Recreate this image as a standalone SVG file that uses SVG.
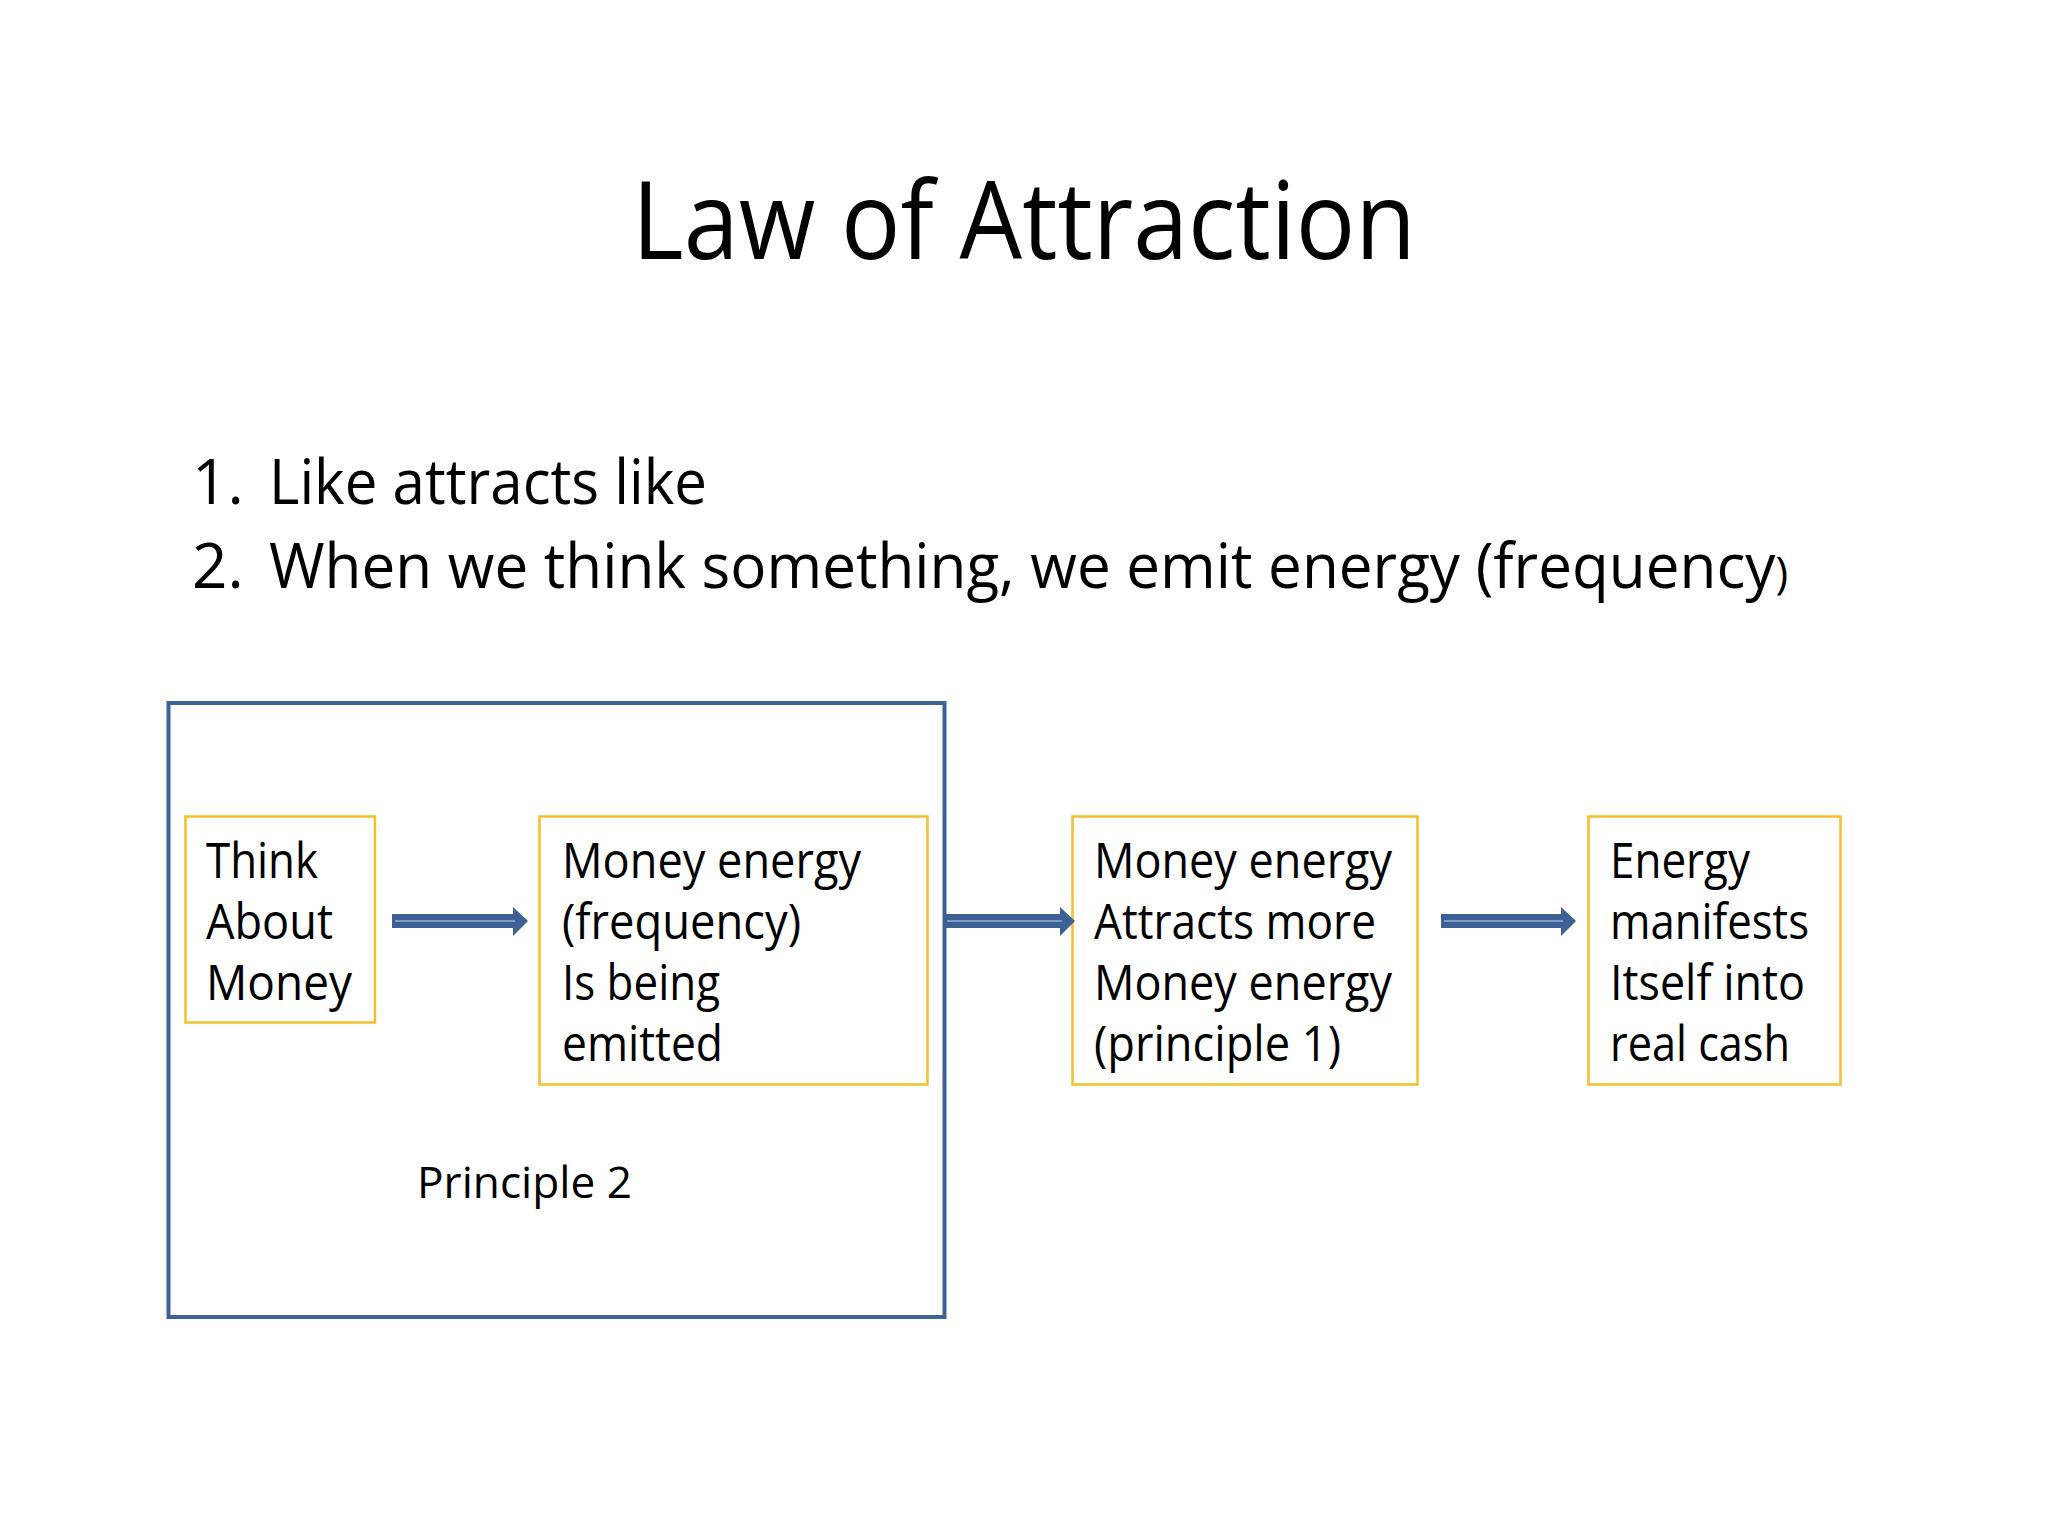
<svg xmlns="http://www.w3.org/2000/svg" width="2048" height="1536" viewBox="0 0 2048 1536">
<style>
text{font-family:"Open Sans","Noto Sans","Liberation Sans",sans-serif;fill:#000}
.t{font-size:108px}
.l{font-size:62px}
.b{font-size:50px}
.p{font-size:44px}
.box{fill:none;stroke:#F4BF2A;stroke-width:2.5}
.frame{fill:none;stroke:#3F6295;stroke-width:4}
.ar{fill:#3D6095}
.arl{stroke:#7C9BC9;stroke-width:2;fill:none}
</style>
<rect width="2048" height="1536" fill="#fff"/>
<text class="t" x="632" y="259" textLength="784" lengthAdjust="spacingAndGlyphs">Law of Attraction</text>
<text class="l" x="192" y="504">1.</text>
<text class="l" x="269" y="504" textLength="438" lengthAdjust="spacingAndGlyphs">Like attracts like</text>
<text class="l" x="192" y="588">2.</text>
<text class="l" x="269" y="588" textLength="1519" lengthAdjust="spacingAndGlyphs">When we think something, we emit energy (frequency<tspan style="font-size:44px">)</tspan></text>
<g id="principle2">
<rect class="frame" x="168.5" y="703" width="776" height="614"/>
<text class="p" x="417" y="1198" textLength="215" lengthAdjust="spacingAndGlyphs">Principle 2</text>
</g>
<g id="think">
<rect class="box" x="185.5" y="816.5" width="189.5" height="206"/>
<text class="b"><tspan x="206" y="878" textLength="112" lengthAdjust="spacingAndGlyphs">Think</tspan><tspan x="206" y="939" textLength="127" lengthAdjust="spacingAndGlyphs">About</tspan><tspan x="206" y="1000" textLength="146" lengthAdjust="spacingAndGlyphs">Money</tspan></text>
</g>
<g id="emitted">
<rect class="box" x="539.5" y="816.5" width="388" height="268"/>
<text class="b"><tspan x="562" y="878" textLength="299" lengthAdjust="spacingAndGlyphs">Money energy</tspan><tspan x="562" y="939" textLength="239" lengthAdjust="spacingAndGlyphs">(frequency)</tspan><tspan x="562" y="1000" textLength="158" lengthAdjust="spacingAndGlyphs">Is being</tspan><tspan x="562" y="1061" textLength="161" lengthAdjust="spacingAndGlyphs">emitted</tspan></text>
</g>
<g id="attracts">
<rect class="box" x="1072.5" y="816.5" width="345" height="268"/>
<text class="b"><tspan x="1094" y="878" textLength="298" lengthAdjust="spacingAndGlyphs">Money energy</tspan><tspan x="1094" y="939" textLength="282" lengthAdjust="spacingAndGlyphs">Attracts more</tspan><tspan x="1094" y="1000" textLength="298" lengthAdjust="spacingAndGlyphs">Money energy</tspan><tspan x="1094" y="1061" textLength="247" lengthAdjust="spacingAndGlyphs">(principle 1)</tspan></text>
</g>
<g id="manifests">
<rect class="box" x="1588.5" y="816.5" width="252" height="268"/>
<text class="b"><tspan x="1610" y="878" textLength="140" lengthAdjust="spacingAndGlyphs">Energy</tspan><tspan x="1610" y="939" textLength="199" lengthAdjust="spacingAndGlyphs">manifests</tspan><tspan x="1610" y="1000" textLength="195" lengthAdjust="spacingAndGlyphs">Itself into</tspan><tspan x="1610" y="1061" textLength="180" lengthAdjust="spacingAndGlyphs">real cash</tspan></text>
</g>
<g id="connectors">
<path class="ar" d="M392 914 H513 V907 L528 921 L513 936 V928 H392 Z"/>
<path class="arl" d="M395 921 H515"/>
<path class="ar" d="M944 914 H1060 V907 L1075 921 L1060 936 V928 H944 Z"/>
<path class="arl" d="M947 921 H1062"/>
<path class="ar" d="M1441 914 H1561 V907 L1576 921 L1561 936 V928 H1441 Z"/>
<path class="arl" d="M1444 921 H1563"/>
</g>
</svg>
